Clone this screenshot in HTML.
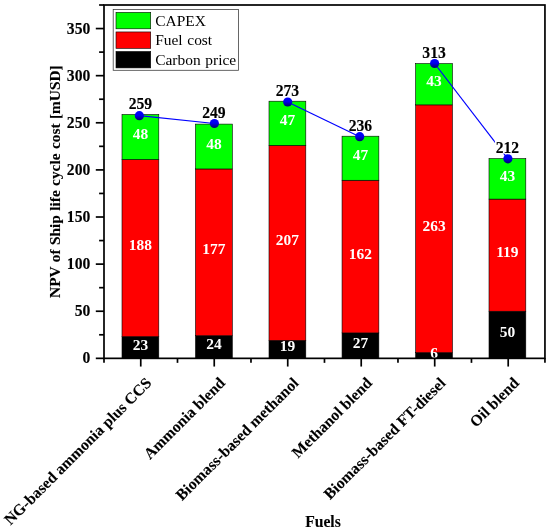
<!DOCTYPE html>
<html><head><meta charset="utf-8"><title>NPV of Ship life cycle cost</title>
<style>html,body{margin:0;padding:0;background:#fff;}body{width:550px;height:531px;overflow:hidden;}svg{display:block;}text{font-family:"Liberation Serif",serif;}.b{font-weight:bold;font-size:15.65px;stroke:#000;stroke-width:0.1px;}.d{font-weight:bold;font-size:15.65px;stroke:#000;stroke-width:0.12px;}.w{fill:#fff;font-size:15.45px;stroke:none;}.r{font-size:15.45px;word-spacing:0.8px;}.rot{font-size:15.4px;letter-spacing:0;word-spacing:0.5px;}.xl{letter-spacing:0.03px;word-spacing:-0.1px;}</style></head><body>
<svg width="550" height="531" viewBox="0 0 550 531">
<defs><linearGradient id="dg" x1="0" y1="0" x2="0" y2="1"><stop offset="0" stop-color="#0000ff"/><stop offset="0.45" stop-color="#0000f0"/><stop offset="1" stop-color="#000068"/></linearGradient></defs>
<rect x="0" y="0" width="550" height="531" fill="#fff"/>
<rect x="122.00" y="336.68" width="36.80" height="21.67" fill="#000" stroke="#000" stroke-width="0.6"/>
<rect x="122.00" y="159.53" width="36.80" height="177.15" fill="#ff0000" stroke="#000" stroke-width="0.6"/>
<rect x="122.00" y="114.50" width="36.80" height="45.03" fill="#00ff00" stroke="#000" stroke-width="0.6"/>
<rect x="195.50" y="335.74" width="36.80" height="22.61" fill="#000" stroke="#000" stroke-width="0.6"/>
<rect x="195.50" y="168.95" width="36.80" height="166.78" fill="#ff0000" stroke="#000" stroke-width="0.6"/>
<rect x="195.50" y="124.10" width="36.80" height="44.85" fill="#00ff00" stroke="#000" stroke-width="0.6"/>
<rect x="269.00" y="340.45" width="36.80" height="17.90" fill="#000" stroke="#000" stroke-width="0.6"/>
<rect x="269.00" y="145.40" width="36.80" height="195.05" fill="#ff0000" stroke="#000" stroke-width="0.6"/>
<rect x="269.00" y="101.20" width="36.80" height="44.20" fill="#00ff00" stroke="#000" stroke-width="0.6"/>
<rect x="342.05" y="332.91" width="36.80" height="25.44" fill="#000" stroke="#000" stroke-width="0.6"/>
<rect x="342.05" y="180.26" width="36.80" height="152.65" fill="#ff0000" stroke="#000" stroke-width="0.6"/>
<rect x="342.05" y="136.20" width="36.80" height="44.06" fill="#00ff00" stroke="#000" stroke-width="0.6"/>
<rect x="415.65" y="352.70" width="36.80" height="5.65" fill="#000" stroke="#000" stroke-width="0.6"/>
<rect x="415.65" y="104.88" width="36.80" height="247.82" fill="#ff0000" stroke="#000" stroke-width="0.6"/>
<rect x="415.65" y="63.60" width="36.80" height="41.28" fill="#00ff00" stroke="#000" stroke-width="0.6"/>
<rect x="489.00" y="311.24" width="36.80" height="47.11" fill="#000" stroke="#000" stroke-width="0.6"/>
<rect x="489.00" y="199.11" width="36.80" height="112.13" fill="#ff0000" stroke="#000" stroke-width="0.6"/>
<rect x="489.00" y="158.60" width="36.80" height="40.51" fill="#00ff00" stroke="#000" stroke-width="0.6"/>
<line x1="139.35" y1="115.70" x2="214.40" y2="123.50" stroke="#0000ff" stroke-width="1.2"/>
<line x1="287.70" y1="102.00" x2="359.70" y2="136.70" stroke="#0000ff" stroke-width="1.2"/>
<line x1="434.60" y1="63.50" x2="507.90" y2="158.80" stroke="#0000ff" stroke-width="1.2"/>
<text class="d" x="140.40" y="109.40" text-anchor="middle">259</text>
<text class="d w" x="140.40" y="139.02" text-anchor="middle">48</text>
<text class="d w" x="140.40" y="250.10" text-anchor="middle">188</text>
<text class="d w" x="140.40" y="349.51" text-anchor="middle">23</text>
<text class="d" x="213.90" y="117.80" text-anchor="middle">249</text>
<text class="d w" x="213.90" y="148.53" text-anchor="middle">48</text>
<text class="d w" x="213.90" y="254.35" text-anchor="middle">177</text>
<text class="d w" x="213.90" y="349.04" text-anchor="middle">24</text>
<text class="d" x="287.40" y="95.50" text-anchor="middle">273</text>
<text class="d w" x="287.40" y="125.30" text-anchor="middle">47</text>
<text class="d w" x="287.40" y="244.92" text-anchor="middle">207</text>
<text class="d w" x="287.40" y="351.40" text-anchor="middle">19</text>
<text class="d" x="360.45" y="130.95" text-anchor="middle">236</text>
<text class="d w" x="360.45" y="160.23" text-anchor="middle">47</text>
<text class="d w" x="360.45" y="258.59" text-anchor="middle">162</text>
<text class="d w" x="360.45" y="347.63" text-anchor="middle">27</text>
<text class="d" x="434.05" y="58.35" text-anchor="middle">313</text>
<text class="d w" x="434.05" y="86.24" text-anchor="middle">43</text>
<text class="d w" x="434.05" y="230.79" text-anchor="middle">263</text>
<text class="d w" x="434.05" y="357.52" text-anchor="middle">6</text>
<rect x="494.90" y="139.70" width="25" height="14" fill="#fff"/>
<text class="d" x="507.40" y="153.20" text-anchor="middle">212</text>
<text class="d w" x="507.40" y="180.85" text-anchor="middle">43</text>
<text class="d w" x="507.40" y="257.17" text-anchor="middle">119</text>
<text class="d w" x="507.40" y="336.79" text-anchor="middle">50</text>
<circle cx="139.35" cy="115.70" r="4.6" fill="url(#dg)"/>
<circle cx="214.40" cy="123.50" r="4.6" fill="url(#dg)"/>
<circle cx="287.70" cy="102.00" r="4.6" fill="url(#dg)"/>
<circle cx="359.70" cy="136.70" r="4.6" fill="url(#dg)"/>
<circle cx="434.60" cy="63.50" r="4.6" fill="url(#dg)"/>
<circle cx="507.90" cy="158.80" r="4.6" fill="url(#dg)"/>
<g stroke="#000" stroke-width="1.7" fill="none" stroke-linecap="butt">
<rect x="104.00" y="5.00" width="440.95" height="353.35"/>
<line x1="95.80" y1="358.35" x2="104.00" y2="358.35"/>
<line x1="99.10" y1="334.79" x2="104.00" y2="334.79"/>
<line x1="95.80" y1="311.24" x2="104.00" y2="311.24"/>
<line x1="99.10" y1="287.68" x2="104.00" y2="287.68"/>
<line x1="95.80" y1="264.12" x2="104.00" y2="264.12"/>
<line x1="99.10" y1="240.57" x2="104.00" y2="240.57"/>
<line x1="95.80" y1="217.01" x2="104.00" y2="217.01"/>
<line x1="99.10" y1="193.45" x2="104.00" y2="193.45"/>
<line x1="95.80" y1="169.90" x2="104.00" y2="169.90"/>
<line x1="99.10" y1="146.34" x2="104.00" y2="146.34"/>
<line x1="95.80" y1="122.78" x2="104.00" y2="122.78"/>
<line x1="99.10" y1="99.23" x2="104.00" y2="99.23"/>
<line x1="95.80" y1="75.67" x2="104.00" y2="75.67"/>
<line x1="99.10" y1="52.11" x2="104.00" y2="52.11"/>
<line x1="95.80" y1="28.56" x2="104.00" y2="28.56"/>
<line x1="99.10" y1="5.00" x2="104.00" y2="5.00"/>
<line x1="140.75" y1="358.35" x2="140.75" y2="366.55"/>
<line x1="214.24" y1="358.35" x2="214.24" y2="366.55"/>
<line x1="287.73" y1="358.35" x2="287.73" y2="366.55"/>
<line x1="361.22" y1="358.35" x2="361.22" y2="366.55"/>
<line x1="434.71" y1="358.35" x2="434.71" y2="366.55"/>
<line x1="508.20" y1="358.35" x2="508.20" y2="366.55"/>
<line x1="104.00" y1="358.35" x2="104.00" y2="362.85"/>
<line x1="177.49" y1="358.35" x2="177.49" y2="362.85"/>
<line x1="250.98" y1="358.35" x2="250.98" y2="362.85"/>
<line x1="324.48" y1="358.35" x2="324.48" y2="362.85"/>
<line x1="397.97" y1="358.35" x2="397.97" y2="362.85"/>
<line x1="471.46" y1="358.35" x2="471.46" y2="362.85"/>
<line x1="544.95" y1="358.35" x2="544.95" y2="362.85"/>
</g>
<text class="b" x="90.3" y="363.45" text-anchor="end">0</text>
<text class="b" x="90.3" y="316.34" text-anchor="end">50</text>
<text class="b" x="90.3" y="269.22" text-anchor="end">100</text>
<text class="b" x="90.3" y="222.11" text-anchor="end">150</text>
<text class="b" x="90.3" y="175.00" text-anchor="end">200</text>
<text class="b" x="90.3" y="127.88" text-anchor="end">250</text>
<text class="b" x="90.3" y="80.77" text-anchor="end">300</text>
<text class="b" x="90.3" y="33.66" text-anchor="end">350</text>
<text class="b rot" transform="translate(60.0,181.6) rotate(-90)" text-anchor="middle">NPV of Ship life cycle cost [mUSD]</text>
<text class="b xl" transform="translate(152.55,383.85) rotate(-45)" text-anchor="end">NG-based ammonia plus CCS</text>
<text class="b xl" transform="translate(226.04,383.85) rotate(-45)" text-anchor="end">Ammonia blend</text>
<text class="b xl" transform="translate(299.53,383.85) rotate(-45)" text-anchor="end">Biomass-based methanol</text>
<text class="b xl" transform="translate(373.02,383.85) rotate(-45)" text-anchor="end">Methanol blend</text>
<text class="b xl" transform="translate(446.51,383.85) rotate(-45)" text-anchor="end">Biomass-based FT-diesel</text>
<text class="b xl" transform="translate(520.00,383.85) rotate(-45)" text-anchor="end">Oil blend</text>
<text class="b" x="323" y="526.8" text-anchor="middle">Fuels</text>
<rect x="113.2" y="9.5" width="125.2" height="60.8" fill="#fff" stroke="#404040" stroke-width="0.8"/>
<rect x="116" y="12.40" width="34.7" height="16.4" fill="#00ff00" stroke="#000" stroke-width="0.6"/>
<text class="r" x="155.2" y="25.90">CAPEX</text>
<rect x="116" y="31.95" width="34.7" height="16.4" fill="#ff0000" stroke="#000" stroke-width="0.6"/>
<text class="r" x="155.2" y="45.45">Fuel cost</text>
<rect x="116" y="51.50" width="34.7" height="16.4" fill="#000000" stroke="#000" stroke-width="0.6"/>
<text class="r" x="155.2" y="65.00">Carbon price</text>
</svg></body></html>
